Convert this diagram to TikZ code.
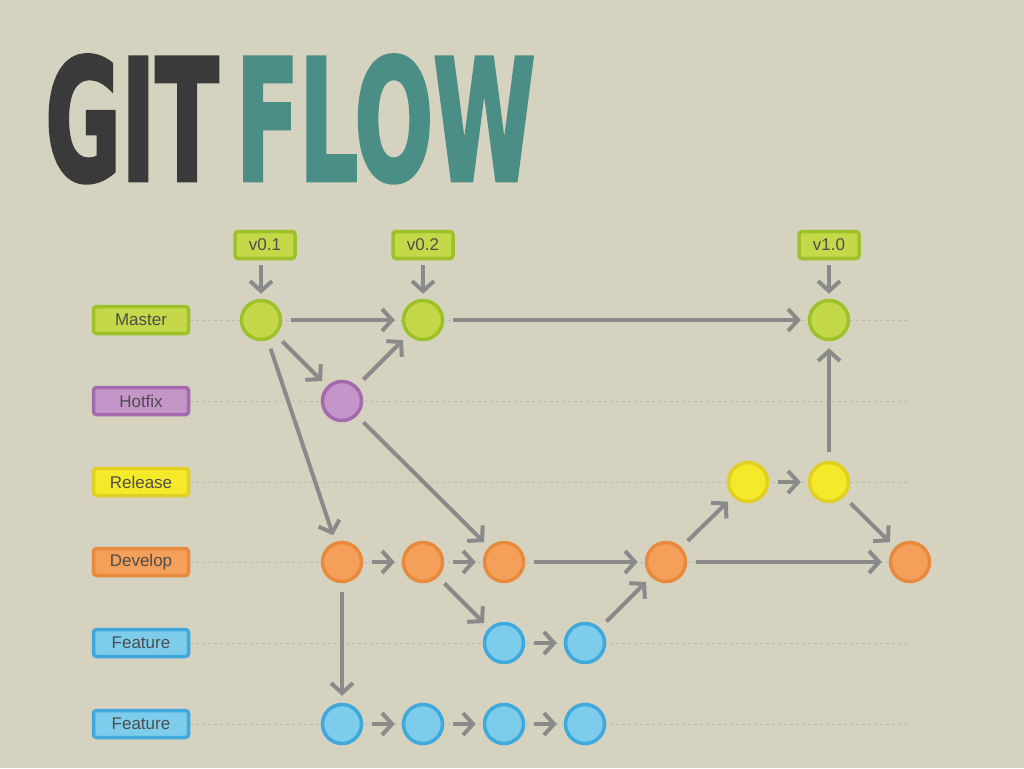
\documentclass[tikz,border=0pt]{standalone}
\usepackage{fontspec}
\setmainfont{Liberation Sans}
\newfontfamily\titlefont[BoldFeatures={FakeBold=2.5}]{DejaVu Sans Condensed}
\usetikzlibrary{arrows.meta}
\definecolor{bg}{HTML}{D5D2C0}
\definecolor{gfill}{HTML}{C4D84A}\definecolor{gline}{HTML}{9DC229}
\definecolor{pfill}{HTML}{C495C8}\definecolor{pline}{HTML}{A569AE}
\definecolor{yfill}{HTML}{F5EA2A}\definecolor{yline}{HTML}{E1D022}
\definecolor{ofill}{HTML}{F5A05A}\definecolor{oline}{HTML}{E88A3E}
\definecolor{bfill}{HTML}{7DCCEB}\definecolor{bline}{HTML}{3FA9DE}
\definecolor{arr}{HTML}{8A8A8A}
\definecolor{dark}{HTML}{3A3A3A}\definecolor{teal}{HTML}{4A8E86}
\begin{document}
\begin{tikzpicture}[x=1pt,y=-1pt,
 commit/.style={circle,minimum size=39pt,inner sep=0pt,line width=3.5pt},
 lbl/.style={rounded corners=3pt,line width=3.5pt,minimum width=95pt,minimum height=27pt,inner sep=0pt,font=\fontsize{17}{17}\selectfont,text=dark!90},
 tag/.style={rounded corners=3pt,line width=3.5pt,minimum width=60pt,minimum height=27pt,inner sep=0pt,font=\fontsize{17}{17}\selectfont,text=dark!90,draw=gline,fill=gfill},
 G/.style={commit,draw=gline,fill=gfill},P/.style={commit,draw=pline,fill=pfill},
 Y/.style={commit,draw=yline,fill=yfill},O/.style={commit,draw=oline,fill=ofill},
 B/.style={commit,draw=bline,fill=bfill},
 ar/.style={draw=arr,line width=4pt,-{Straight Barb[length=10pt,width=22pt,line width=4pt]},shorten <=9pt,shorten >=7pt},
 guide/.style={draw=gray!55,dashed,line width=0.7pt}]
\fill[bg] (0,0) rectangle (1024,768);
\useasboundingbox (0,0) rectangle (1024,768);
\node[anchor=north west,inner sep=0pt] (title) at (45,55) {\resizebox{490pt}{125pt}{\titlefont\bfseries\color{dark}GIT\,\color{teal}FLOW}};
\foreach \n/\y/\t/\c in {lm/320/Master/g,lh/401/Hotfix/p,lr/482/Release/y,ld/562/Develop/o,lf/643/Feature/b,lg/724/Feature/b}{
 \draw[guide] (190,\y) -- (910,\y);
 \node[lbl,draw=\c line,fill=\c fill] (\n) at (141,\y) {\t};}
\node[G] (m1) at (261,320) {}; \node[G] (m2) at (423,320) {}; \node[G] (m3) at (829,320) {};
\node[P] (h1) at (342,401) {};
\node[Y] (r1) at (748,482) {}; \node[Y] (r2) at (829,482) {};
\node[O] (d1) at (342,562) {}; \node[O] (d2) at (423,562) {}; \node[O] (d3) at (504,562) {};
\node[O] (d4) at (666,562) {}; \node[O] (d5) at (910,562) {};
\node[B] (f1) at (504,643) {}; \node[B] (f2) at (585,643) {};
\node[B] (g1) at (342,724) {}; \node[B] (g2) at (423,724) {}; \node[B] (g3) at (504,724) {}; \node[B] (g4) at (585,724) {};
\node[tag] (t1) at (265,245) {v0.1}; \node[tag] (t2) at (423,245) {v0.2}; \node[tag] (t3) at (829,245) {v1.0};
\path[ar,shorten <=5pt,shorten >=5pt] (t1.south -| m1) -- (m1);
\foreach \a/\b in {t2/m2,t3/m3}{\path[ar,shorten <=5pt,shorten >=5pt] (\a) -- (\b);}
\foreach \a/\b in {m1/m2,m2/m3,m1/h1,h1/m2,m1/d1,h1/d3,d1/d2,d2/d3,d3/d4,d2/f1,f1/f2,f2/d4,d4/r1,r1/r2,r2/m3,r2/d5,d4/d5,d1/g1,g1/g2,g2/g3,g3/g4}{\path[ar] (\a) -- (\b);}
\end{tikzpicture}
\end{document}
